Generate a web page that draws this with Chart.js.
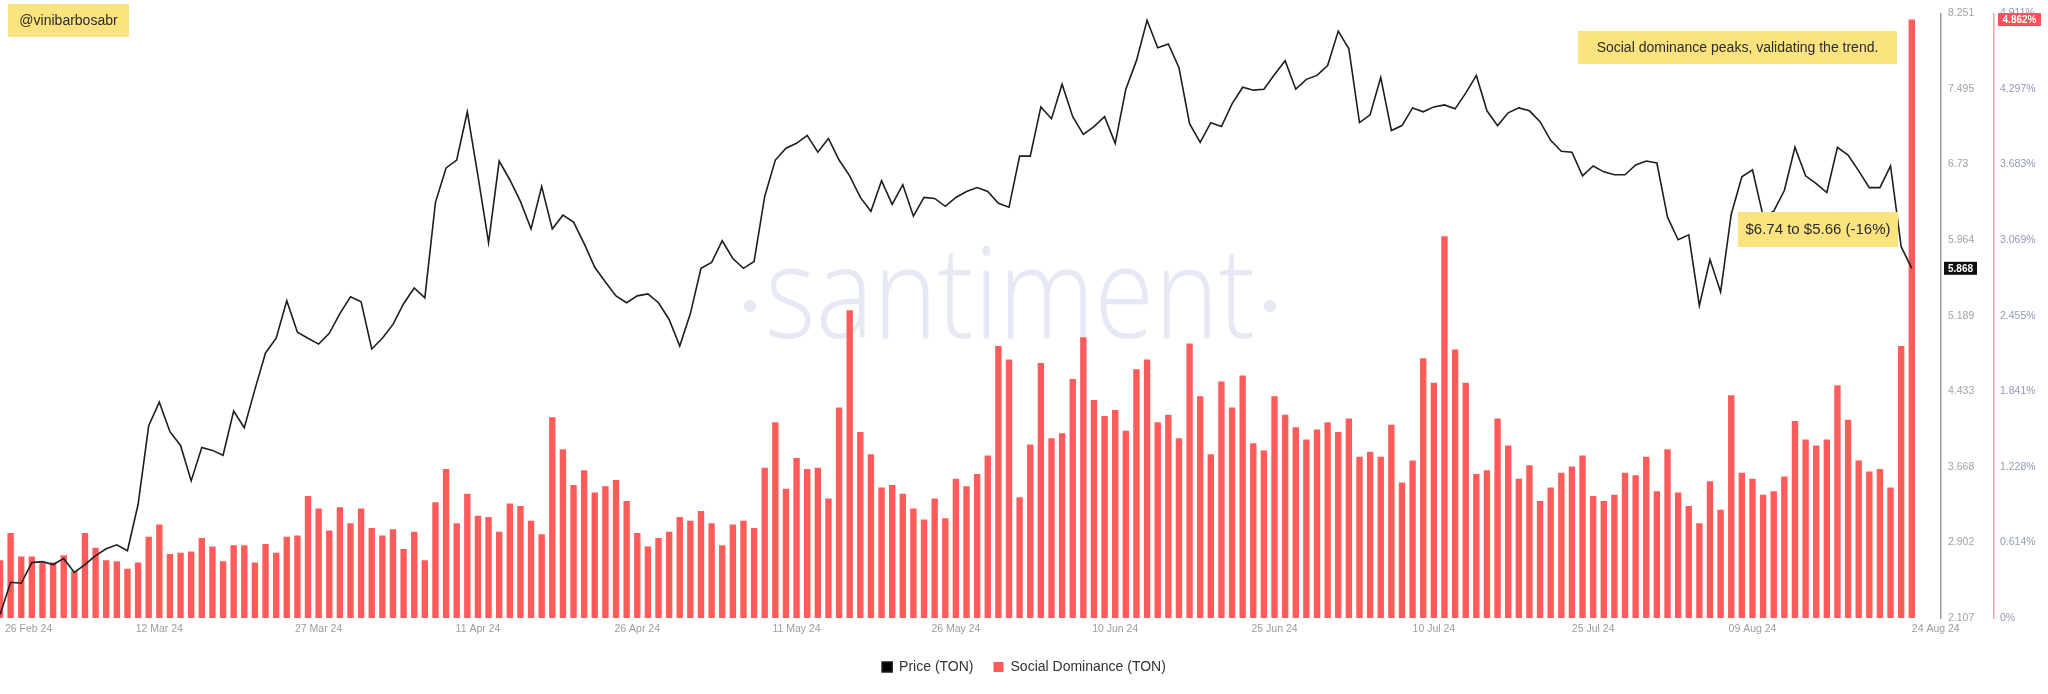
<!DOCTYPE html>
<html>
<head>
<meta charset="utf-8">
<script src="https://cdn.jsdelivr.net/npm/chart.js@4.4.1/dist/chart.umd.min.js"></script>
<style>
html,body{margin:0;padding:0;background:#ffffff;}
#wrap{width:2048px;height:694px;position:relative;}
</style>
</head>
<body>
<div id="wrap"><canvas id="c"></canvas></div>
<script>
// ---------- DATA ----------
const startDate = '2024-02-26';

const price = [
  2.14, 2.47, 2.46, 2.67, 2.68, 2.65, 2.71, 2.57, 2.65, 2.74,
  2.81, 2.85, 2.79, 3.26, 4.06, 4.30, 4.00, 3.86, 3.50, 3.84,
  3.81, 3.76, 4.21, 4.04, 4.43, 4.80, 4.95, 5.33, 5.01, 4.95,
  4.89, 5.00, 5.20, 5.37, 5.32, 4.84, 4.95, 5.09, 5.30, 5.46,
  5.36, 6.33, 6.68, 6.76, 7.25, 6.60, 5.92, 6.75, 6.56, 6.34,
  6.06, 6.49, 6.06, 6.20, 6.13, 5.91, 5.67, 5.52, 5.38, 5.31,
  5.38, 5.40, 5.31, 5.14, 4.87, 5.20, 5.66, 5.72, 5.94, 5.76,
  5.66, 5.73, 6.39, 6.76, 6.88, 6.93, 7.01, 6.84, 6.98, 6.76,
  6.60, 6.38, 6.24, 6.55, 6.31, 6.51, 6.19, 6.38, 6.37, 6.29,
  6.38, 6.44, 6.48, 6.44, 6.32, 6.28, 6.80, 6.80, 7.30, 7.18,
  7.53, 7.20, 7.02, 7.10, 7.20, 6.93, 7.48, 7.77, 8.18, 7.90,
  7.94, 7.70, 7.13, 6.94, 7.14, 7.10, 7.33, 7.50, 7.47, 7.48,
  7.63, 7.77, 7.48, 7.58, 7.62, 7.72, 8.07, 7.89, 7.14, 7.22,
  7.60, 7.06, 7.11, 7.29, 7.25, 7.30, 7.32, 7.28, 7.44, 7.62,
  7.26, 7.11, 7.24, 7.29, 7.26, 7.15, 6.96, 6.85, 6.84, 6.60,
  6.70, 6.64, 6.61, 6.61, 6.71, 6.75, 6.73, 6.18, 5.95, 6.00,
  5.28, 5.75, 5.42, 6.21, 6.59, 6.66, 6.19, 6.24, 6.45, 6.89,
  6.60, 6.52, 6.43, 6.89, 6.81, 6.65, 6.48, 6.48, 6.70, 5.88,
  5.66
];

const dominance = [
  0.47, 0.69, 0.50, 0.50, 0.45, 0.45, 0.51, 0.38, 0.69, 0.57,
  0.47, 0.46, 0.40, 0.45, 0.66, 0.76, 0.52, 0.53, 0.54, 0.65,
  0.58, 0.46, 0.59, 0.59, 0.45, 0.60, 0.53, 0.66, 0.67, 0.99,
  0.89, 0.71, 0.90, 0.77, 0.89, 0.73, 0.67, 0.72, 0.56, 0.70,
  0.47, 0.94, 1.21, 0.77, 1.01, 0.83, 0.82, 0.70, 0.93, 0.91,
  0.79, 0.68, 1.63, 1.37, 1.08, 1.20, 1.02, 1.07, 1.12, 0.95,
  0.69, 0.58, 0.65, 0.70, 0.82, 0.79, 0.87, 0.77, 0.59, 0.76,
  0.79, 0.73, 1.22, 1.59, 1.05, 1.30, 1.21, 1.22, 0.97, 1.71,
  2.50, 1.51, 1.33, 1.06, 1.08, 1.01, 0.89, 0.80, 0.97, 0.81,
  1.13, 1.07, 1.17, 1.32, 2.21, 2.10, 0.98, 1.41, 2.07, 1.46,
  1.50, 1.94, 2.28, 1.77, 1.64, 1.69, 1.52, 2.02, 2.10, 1.59,
  1.65, 1.46, 2.23, 1.80, 1.33, 1.92, 1.71, 1.97, 1.42, 1.36,
  1.80, 1.65, 1.55, 1.45, 1.53, 1.59, 1.51, 1.62, 1.31, 1.35,
  1.31, 1.57, 1.10, 1.28, 2.11, 1.91, 3.10, 2.18, 1.91, 1.17,
  1.20, 1.62, 1.40, 1.13, 1.24, 0.95, 1.06, 1.18, 1.23, 1.32,
  0.99, 0.95, 1.00, 1.18, 1.16, 1.31, 1.03, 1.37, 1.02, 0.91,
  0.77, 1.11, 0.88, 1.81, 1.18, 1.13, 1.00, 1.03, 1.15, 1.60,
  1.45, 1.40, 1.45, 1.89, 1.61, 1.28, 1.19, 1.21, 1.06, 2.21,
  4.86
];

const xTickDays   = [0, 15, 30, 45, 60, 75, 90, 105, 120, 135, 150, 165, 180];
const xTickLabels = ['26 Feb 24', '12 Mar 24', '27 Mar 24', '11 Apr 24', '26 Apr 24', '11 May 24',
                     '26 May 24', '10 Jun 24', '25 Jun 24', '10 Jul 24', '25 Jul 24', '09 Aug 24', '24 Aug 24'];

const priceMin = 2.107, priceMax = 8.251;
const priceTickLabels = ['2.107', '2.902', '3.668', '4.433', '5.189', '5.964', '6.73', '7.495', '8.251'];
const domMin = 0, domMax = 4.911;
const domTickLabels = ['0%', '0.614%', '1.228%', '1.841%', '2.455%', '3.069%', '3.683%', '4.297%', '4.911%'];

const currentPriceLabel = '5.868';
const currentDomLabel = '4.862%';
const handleText = '@vinibarbosabr';
const peakNote = 'Social dominance peaks, validating the trend.';
const dropNote = '$6.74 to $5.66 (-16%)';
const watermarkText = 'santiment';

// categories (one per day)
const categories = [];
(function () {
  const d0 = new Date(startDate + 'T00:00:00Z').getTime();
  for (let k = 0; k < price.length; k++) {
    categories.push(new Date(d0 + k * 86400000).toISOString().slice(0, 10));
  }
})();

// ---------- STYLE ----------
const FONT = "'Liberation Sans', Arial, Helvetica, sans-serif";
const RED = '#ff5b5b';
const YELLOW = '#fbe47f';

const evenTicks = (labels, min, max) => labels.map((_, k) => ({ value: min + k * (max - min) / (labels.length - 1) }));

const watermarkPlugin = {
  id: 'watermark',
  beforeDatasetsDraw(chart) {
    const ctx = chart.ctx;
    ctx.save();
    ctx.fillStyle = 'rgba(222,224,240,0.75)';
    ctx.font = "300 128px 'Open Sans', 'Liberation Sans', sans-serif";
    ctx.textBaseline = 'alphabetic';
    const w = ctx.measureText(watermarkText).width;
    const left = 765, right = 1255, base = 338;
    const sx = (right - left) / w;
    ctx.translate(left, base);
    ctx.scale(sx, 1);
    ctx.fillText(watermarkText, 0, 0);
    ctx.restore();
    ctx.save();
    ctx.fillStyle = 'rgba(222,224,240,0.75)';
    ctx.beginPath(); ctx.arc(750, 306, 6, 0, Math.PI * 2); ctx.fill();
    ctx.beginPath(); ctx.arc(1270, 306, 6, 0, Math.PI * 2); ctx.fill();
    ctx.restore();
  }
};

function noteBox(ctx, text, x, y, w, h, size) {
  ctx.fillStyle = YELLOW;
  ctx.fillRect(x, y, w, h);
  ctx.fillStyle = '#2b2b2b';
  ctx.font = size + 'px ' + FONT;
  ctx.textBaseline = 'middle';
  ctx.textAlign = 'center';
  ctx.fillText(text, x + w / 2, y + h / 2 + 0.5);
}

const overlayPlugin = {
  id: 'overlay',
  afterDraw(chart) {
    const ctx = chart.ctx;
    const xs = chart.scales.x, yp = chart.scales.yPrice, yd = chart.scales.yDom;
    ctx.save();
    // x tick labels
    ctx.font = '10.5px ' + FONT;
    ctx.fillStyle = '#9a9ca4';
    ctx.textBaseline = 'middle';
    xTickDays.forEach((d, k) => {
      const px = xs.getPixelForValue(d);
      if (k === 0) { ctx.textAlign = 'left'; ctx.fillText(xTickLabels[k], px + 5, 629); }
      else if (k === xTickDays.length - 1) { ctx.textAlign = 'left'; ctx.fillText(xTickLabels[k], px, 629); }
      else { ctx.textAlign = 'center'; ctx.fillText(xTickLabels[k], px, 629); }
    });
    // annotations
    noteBox(ctx, handleText, 8, 4, 121, 33, 14);
    noteBox(ctx, peakNote, 1578, 31, 319, 33, 14);
    noteBox(ctx, dropNote, 1738, 212, 160, 35, 15);
    // current price box
    const lp = yp.getPixelForValue(price[price.length - 1]);
    ctx.fillStyle = '#111111';
    ctx.fillRect(yp.left + 3, lp - 6.5, 33, 13);
    ctx.fillStyle = '#ffffff';
    ctx.font = 'bold 10px ' + FONT;
    ctx.textAlign = 'center';
    ctx.fillText(currentPriceLabel, yp.left + 19.5, lp + 0.5);
    // current dominance box
    const ld = yd.getPixelForValue(dominance[dominance.length - 1]);
    ctx.fillStyle = '#f4525a';
    ctx.fillRect(yd.left + 4, ld - 6.5, 43, 13);
    ctx.fillStyle = '#ffffff';
    ctx.font = 'bold 10px ' + FONT;
    ctx.fillText(currentDomLabel, yd.left + 25.5, ld + 0.5);
    ctx.restore();
  }
};

new Chart(document.getElementById('c'), {
  data: {
    labels: categories,
    datasets: [
      {
        type: 'line',
        label: 'Price (TON)',
        data: price.map((v, k) => ({ x: k, y: v })),
        xAxisID: 'x',
        yAxisID: 'yPrice',
        borderColor: '#1e1e1e',
        backgroundColor: '#000000',
        borderWidth: 1.6,
        pointRadius: 0,
        tension: 0,
        order: 0
      },
      {
        type: 'bar',
        label: 'Social Dominance (TON)',
        data: dominance.map((v, k) => ({ x: k, y: v })),
        xAxisID: 'x',
        yAxisID: 'yDom',
        backgroundColor: RED,
        borderWidth: 0,
        categoryPercentage: 1,
        barPercentage: 0.6,
        order: 1
      }
    ]
  },
  options: {
    responsive: true,
    maintainAspectRatio: false,
    animation: false,
    events: [],
    layout: { padding: { top: 1, bottom: 10, left: 0, right: 0 } },
    plugins: {
      tooltip: { enabled: false },
      legend: {
        position: 'bottom',
        labels: {
          color: '#333333',
          font: { family: FONT, size: 14 },
          boxWidth: 10,
          boxHeight: 10,
          padding: 20
        }
      }
    },
    scales: {
      x: {
        type: 'linear',
        offset: false,
        min: 0,
        max: 182.75,
        grid: { display: false, offset: false },
        border: { display: false },
        ticks: { display: false },
        afterFit(s) { s.height = 22; }
      },
      yPrice: {
        type: 'linear',
        position: 'right',
        weight: 0,
        min: priceMin,
        max: priceMax,
        grid: { display: false, drawTicks: false },
        border: { display: true, color: '#9b9b9b', width: 1.5 },
        afterBuildTicks(s) { s.ticks = evenTicks(priceTickLabels, priceMin, priceMax); },
        ticks: {
          padding: 7,
          color: '#a0a2aa',
          font: { family: FONT, size: 10.5 },
          callback: (v, i) => priceTickLabels[i]
        },
        afterFit(s) { s.width = 53; }
      },
      yDom: {
        type: 'linear',
        position: 'right',
        weight: 1,
        min: domMin,
        max: domMax,
        grid: { display: false, drawTicks: false },
        border: { display: true, color: '#f5a3a7', width: 1.5 },
        afterBuildTicks(s) { s.ticks = evenTicks(domTickLabels, domMin, domMax); },
        ticks: {
          padding: 6,
          color: '#9399b6',
          font: { family: FONT, size: 10.5 },
          callback: (v, i) => domTickLabels[i]
        },
        afterFit(s) { s.width = 54; }
      }
    }
  },
  plugins: [watermarkPlugin, overlayPlugin]
});
</script>
</body>
</html>
